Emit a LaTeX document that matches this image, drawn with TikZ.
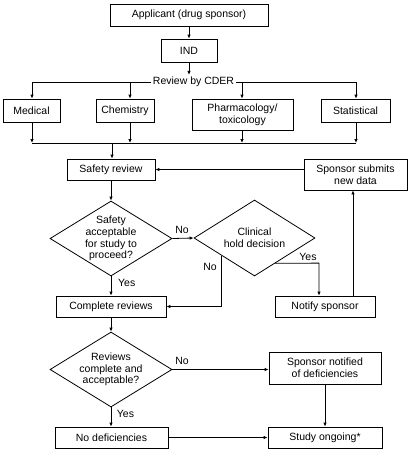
\documentclass[tikz,border=0pt]{standalone}
\usepackage{fontspec}
\setmainfont{Liberation Sans}
\usetikzlibrary{arrows.meta,shapes.geometric,calc}
\tikzset{
  box/.style={draw, line width=0.8pt, inner sep=0pt, align=center, rectangle},
  dia/.style={draw, line width=0.8pt, diamond, inner sep=0pt},
  dtext/.style={align=center, inner sep=0pt},
  conn/.style={line width=0.8pt, -{Latex[length=4pt,width=3.5pt]}},
  line/.style={line width=0.8pt},
  lbl/.style={inner sep=0pt}
}
\begin{document}
\begin{tikzpicture}[x=1pt,y=-1pt,font=\fontsize{10.5}{11.7}\selectfont]
\useasboundingbox (0,0) rectangle (413,451);
% boxes
\node[box, minimum width=158pt, minimum height=22pt] (app) at (189,15) {Applicant (drug sponsor)};
\node[box, minimum width=56pt, minimum height=23pt] (ind) at (189,50.5) {IND};
\node[fill=white, inner sep=2pt] (cder) at (193.5,82) {Review by CDER};
\node[box, minimum width=57pt, minimum height=23pt] (med) at (31.5,110.5) {Medical};
\node[box, minimum width=58pt, minimum height=23pt] (chem) at (125,110.5) {Chemistry};
\node[box, minimum width=101pt, minimum height=31pt] (pharm) at (242.5,114.5) {Pharmacology/\\toxicology};
\node[box, minimum width=69pt, minimum height=23pt] (stat) at (355.5,110.5) {Statistical};
\node[box, minimum width=88pt, minimum height=21pt] (safety) at (111,169.5) {Safety review};
\node[box, minimum width=103pt, minimum height=31pt] (submits) at (355.5,174.5) {Sponsor submits\\new data};
\node[dia, minimum width=122pt, minimum height=75pt] (d1) at (111,238.5) {};
\node[dtext] (d1t) at (d1.center) {Safety\\acceptable\\for study to\\proceed?};
\node[dia, minimum width=121pt, minimum height=76pt] (d2) at (254.5,238) {};
\node[dtext] (d2t) at (d2.center) {Clinical\\hold decision};
\node[box, minimum width=100pt, minimum height=21pt] (notify) at (325,306.5) {Notify sponsor};
\node[box, minimum width=110pt, minimum height=21pt] (complete) at (111,306.5) {Complete reviews};
\node[dia, minimum width=122pt, minimum height=75pt] (d3) at (111,369.5) {};
\node[dtext] (d3t) at (d3.center) {Reviews\\complete and\\acceptable?};
\node[box, minimum width=112pt, minimum height=32pt] (notified) at (325,368) {Sponsor notified\\of deficiencies};
\node[box, minimum width=113pt, minimum height=21pt] (nodef) at (111.5,437.5) {No deficiencies};
\node[box, minimum width=114pt, minimum height=21pt] (ongoing) at (325,437.5) {Study ongoing*};
% coordinates
\coordinate (l1) at (32,82);
\coordinate (c1) at (130,82);
\coordinate (p1) at (242,82);
\coordinate (r1) at (356,82);
\coordinate (l2) at (32,143);
\coordinate (c2) at (130,143);
\coordinate (p2) at (242,143);
\coordinate (r2) at (356,143);
\coordinate (s2) at (112,143);
% top connectors
\draw[conn] (app.south) -- (ind.north);
\draw[conn] (ind.south) -- (ind.south |- cder.north);
\draw[line] (cder.west) -- (l1);
\draw[line] (cder.east) -- (r1);
\draw[conn] (l1) -- (l1 |- med.north);
\draw[conn] (c1) -- (c1 |- chem.north);
\draw[conn] (p1) -- (p1 |- pharm.north);
\draw[conn] (r1) -- (r1 |- stat.north);
\draw[conn] (l2 |- med.south) -- (l2);
\draw[conn] (c2 |- chem.south) -- (c2);
\draw[conn] (p2 |- pharm.south) -- (p2);
\draw[conn] (r2 |- stat.south) -- (r2);
\draw[line] (l2) -- (r2);
\draw[conn] (s2) -- (s2 |- safety.north);
% middle
\draw[conn] (submits.west |- safety.east) -- (safety.east);
\draw[conn] (safety.south) -- (d1.north);
\draw[conn] (d1.east) -- (d2.west);
\node[lbl] (no1) at (182,229.5) {No};
\coordinate (pno) at ($(d2.south)!0.537!(d2.west)$);
\draw[conn] (pno) -- (pno |- complete.east) -- (complete.east);
\node[lbl] (no2) at (210,266.6) {No};
\coordinate (pyes) at ($(d2.south)!0.34!(d2.east)$);
\coordinate (ycorner) at (319,263.1);
\draw[conn] (pyes) -- (ycorner) -- (ycorner |- notify.north);
\node[lbl] (yes2) at (308,257) {Yes};
\coordinate (nup) at (353,306.5);
\draw[conn] (nup |- notify.north) -- (nup |- submits.south);
\draw[conn] (d1.south) -- (complete.north);
\node[lbl] (yes1) at (126.7,283) {Yes};
% bottom
\draw[conn] (complete.south) -- (d3.north);
\draw[conn] (d3.east) -- (d3.east -| notified.west);
\node[lbl] (no3) at (182,361) {No};
\draw[conn] (notified.south) -- (ongoing.north);
\draw[conn] (d3.south) -- (d3.south |- nodef.north);
\node[lbl] (yes3) at (125.5,414) {Yes};
\draw[conn] (nodef.east) -- (ongoing.west);
\end{tikzpicture}
\end{document}
